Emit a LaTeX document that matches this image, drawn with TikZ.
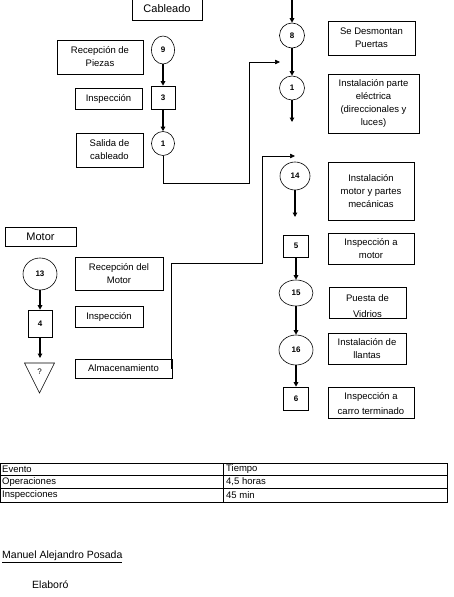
\documentclass[tikz,border=0pt]{standalone}
\usepackage{fontspec}
\setmainfont{Liberation Sans}
\usetikzlibrary{arrows.meta,shapes.geometric,shadows}
\begin{document}
\begin{tikzpicture}[x=1pt,y=-1pt,
  box/.style={draw, line width=0.6pt, fill=white, inner sep=0pt, align=center,
    font=\fontsize{9.5}{13}\selectfont,
    drop shadow={shadow xshift=0.9pt, shadow yshift=-0.9pt, opacity=1, fill=black}},
  titlebox/.style={draw, line width=0.6pt, fill=white, inner sep=0pt, font=\fontsize{11}{13}\selectfont},
  txt/.style={inner sep=0pt, align=center, font=\fontsize{9.5}{13}\selectfont},
  ell/.style={draw, ellipse, line width=0.6pt, inner sep=0pt, fill=white, font=\bfseries\fontsize{8}{10}\selectfont},
  sq/.style={draw, rectangle, line width=0.6pt, inner sep=0pt, fill=white, font=\bfseries\fontsize{8}{10}\selectfont},
  arr/.style={line width=1.1pt, -{Triangle[length=4.5pt,width=4.5pt]}},
  conn/.style={line width=0.6pt, -{Triangle[length=5pt,width=4.5pt]}},
  cell/.style={anchor=west, inner sep=0pt, font=\fontsize{9.5}{11}\selectfont}
]
\useasboundingbox (0,0) rectangle (454,597);
\fill[white] (0,0) rectangle (454,597);

% ---------- Cableado ----------
\node[titlebox, minimum width=70pt, minimum height=23pt] (cab) at (167,9) {Cableado};
\node[box, minimum width=86pt, minimum height=34pt] (rp) at (100,57) {Recepción de\\Piezas};
\node[ell, minimum width=23pt, minimum height=28pt] (c9) at (163,50) {9};
\node[sq, minimum width=24pt, minimum height=23pt] (b3) at (163,97.5) {3};
\node[box, minimum width=67pt, minimum height=21pt] (insp1) at (108.5,98.5) {Inspección};
\node[ell, minimum width=23pt, minimum height=24pt] (c1a) at (163,143.5) {1};
\node[box, minimum width=67pt, minimum height=34pt] (sc) at (109.5,150) {Salida de\\cableado};
\draw[arr] (c9.south) -- (b3.north);
\draw[arr] (b3.south) -- (c1a.north);

% ---------- Right column ----------
\coordinate (topin) at (292,-2);
\node[ell, minimum width=25pt, minimum height=25pt] (c8) at (292,35.5) {8};
\node[box, minimum width=87pt, minimum height=34pt] (sd) at (371.5,38) {Se Desmontan\\Puertas};
\node[ell, minimum width=25pt, minimum height=24pt] (c1b) at (292,88) {1};
\coordinate (c1bout) at (292,122);
\node[box, minimum width=91pt, minimum height=59pt] (ip) at (373.5,103.5) {Instalación parte\\eléctrica\\(direccionales y\\luces)};
\draw[arr] (topin) -- (c8.north);
\draw[arr] (c8.south) -- (c1b.north);
\draw[arr] (c1b.south) -- (c1bout);

\node[ell, minimum width=30pt, minimum height=28pt] (c14) at (295,176) {14};
\coordinate (c14out) at (295,217);
\node[box, minimum width=86pt, minimum height=58pt] (im) at (371,191) {Instalación\\motor y partes\\mecánicas};
\draw[arr] (c14.south) -- (c14out);

\node[sq, minimum width=25pt, minimum height=22pt] (b5) at (296,246) {5};
\node[box, minimum width=86pt, minimum height=31pt] (imot) at (371,248.5) {Inspección a\\motor};
\node[ell, minimum width=34pt, minimum height=26pt] (c15) at (296,293) {15};
\node[box, minimum width=77pt, minimum height=31pt] (pv) at (367.5,302.5) {};
\begin{scope}
  \clip (329,287) rectangle (406,317);
  \node[txt] (pvt1) at (367.5,298) {Puesta de};
  \node[txt] (pvt2) at (367.5,314.5) {Vidrios};
\end{scope}
\node[ell, minimum width=34pt, minimum height=30pt] (c16) at (296,350) {16};
\node[box, minimum width=78pt, minimum height=31pt] (il) at (367,348.5) {Instalación de\\llantas};
\node[sq, minimum width=25pt, minimum height=23pt] (b6) at (296,398.5) {6};
\node[box, minimum width=86pt, minimum height=31pt] (ic) at (371,402.5) {};
\begin{scope}
  \clip (328,387) rectangle (414,413.5);
  \node[txt] (ict1) at (371,397) {Inspección a};
  \node[txt] (ict2) at (371,411.5) {carro terminado};
\end{scope}
\draw[arr] (b5.south) -- (c15.north);
\draw[arr] (c15.south) -- (c16.north);
\draw[arr] (c16.south) -- (b6.north);

% ---------- Motor ----------
\node[titlebox, minimum width=71pt, minimum height=19pt] (mot) at (40.5,236.5) {Motor};
\node[ell, minimum width=34pt, minimum height=32pt] (c13) at (40,274) {13};
\node[box, minimum width=88pt, minimum height=33pt] (rm) at (119,273.5) {Recepción del\\Motor};
\node[sq, minimum width=24pt, minimum height=27pt] (b4) at (40,323.5) {4};
\node[box, minimum width=68pt, minimum height=21pt] (insp2) at (109,316.5) {Inspección};
\coordinate (triin) at (40,358);
\draw[line width=0.6pt] (24.5,363) -- (54.5,363) -- (39.5,393) -- cycle;
\node[inner sep=0pt, font=\fontsize{8}{9}\selectfont] (tril) at (39.5,372) {?};
\node[box, minimum width=97pt, minimum height=19pt] (alm) at (123.5,368.5) {Almacenamiento};
\draw[arr] (c13.south) -- (b4.north);
\draw[arr] (b4.south) -- (triin);

% ---------- Routing connectors ----------
\coordinate (k1) at (249,183);
\coordinate (k2) at (280,62);
\draw[conn] (c1a.south) |- (k1) |- (k2);
\coordinate (k3) at (262,263);
\coordinate (k4) at (295,156);
\draw[conn] ([xshift=-1pt]alm.east) |- (k3) |- (k4);

% ---------- Table ----------
\draw[line width=1pt] (0,463) rectangle (447,502);
\draw[line width=1pt] (0,475.5) -- (447,475.5);
\draw[line width=1pt] (0,488.5) -- (447,488.5);
\draw[line width=1pt] (223,463) -- (223,502);
\node[cell] (t11) at (2,469.5) {Evento};
\node[cell] (t12) at (226,469.5) {Tiempo};
\node[cell] (t21) at (2,482) {Operaciones};
\node[cell] (t22) at (226,482) {4,5 horas};
\node[cell] (t31) at (2,495.5) {Inspecciones};
\node[cell] (t32) at (226,495.5) {45 min};

% ---------- Signature ----------
\node[anchor=west, inner sep=0pt, font=\fontsize{10.5}{12}\selectfont] (name) at (2,557) {\underline{Manuel Alejandro Posada}};
\node[anchor=west, inner sep=0pt, font=\fontsize{10.5}{12}\selectfont] (elab) at (32,585) {Elaboró};
\end{tikzpicture}
\end{document}
